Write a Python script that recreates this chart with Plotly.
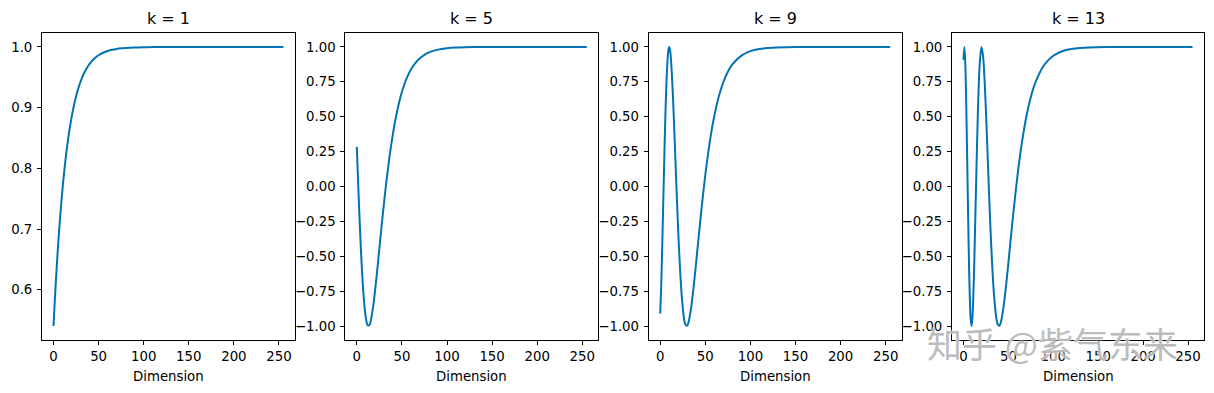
import plotly.graph_objects as go

# Dimension indices at which values were read
dims = [0, 1, 2, 3, 4, 5, 6, 7, 8, 9, 10, 11, 12, 14, 16, 18, 20, 22, 24, 26, 28, 30,
        32, 34, 36, 38, 40, 42, 44, 46, 48, 50, 55, 60, 65, 70, 75, 80, 90, 100, 110,
        120, 130, 140, 160, 180, 200, 220, 240, 255]

k_values = [1, 5, 9, 13]

vals_k1 = [0.5403, 0.5697, 0.5973, 0.6234, 0.6479, 0.6710, 0.6925, 0.7128, 0.7317, 0.7496,
           0.7662, 0.7818, 0.7965, 0.8229, 0.8461, 0.8662, 0.8837, 0.8991, 0.9124, 0.9240,
           0.9341, 0.9428, 0.9504, 0.9570, 0.9627, 0.9677, 0.9720, 0.9758, 0.9790, 0.9818,
           0.9842, 0.9863, 0.9905, 0.9933, 0.9954, 0.9968, 0.9977, 0.9984, 0.9992, 0.9996,
           0.9998, 0.9999, 1.0, 1.0, 1.0, 1.0, 1.0, 1.0, 1.0, 1.0]

vals_k5 = [0.2837, 0.1107, -0.0595, -0.2221, -0.3733, -0.5104, -0.6314, -0.7351, -0.8206, -0.8891,
           -0.9402, -0.9750, -0.9945, -0.9928, -0.9461, -0.8652, -0.7604, -0.6404, -0.5125, -0.3814,
           -0.2523, -0.1279, -0.0103, 0.0993, 0.2002, 0.2923, 0.3757, 0.4506, 0.5176, 0.5772,
           0.6301, 0.6768, 0.7708, 0.8379, 0.8860, 0.9199, 0.9439, 0.9607, 0.9808, 0.9906,
           0.9954, 0.9978, 0.9989, 0.9995, 0.9999, 1.0, 1.0, 1.0, 1.0, 1.0]

vals_k9 = [-0.9111, -0.7366, -0.4979, -0.2233, 0.0603, 0.3295, 0.5658, 0.7564, 0.8935, 0.9743,
           1.0000, 0.9749, 0.9053, 0.6642, 0.3416, -0.0027, -0.3237, -0.5923, -0.7939, -0.9249,
           -0.9895, -0.9965, -0.9566, -0.8808, -0.7795, -0.6615, -0.5341, -0.4034, -0.2738, -0.1485,
           -0.0297, 0.0814, 0.3218, 0.5068, 0.6465, 0.7484, 0.8220, 0.8747, 0.9383, 0.9698,
           0.9852, 0.9928, 0.9965, 0.9983, 0.9996, 0.9999, 1.0, 1.0, 1.0, 1.0]

vals_k13 = [0.9074, 0.9997, 0.8920, 0.6244, 0.2590, -0.1355, -0.4966, -0.7770, -0.9480, -0.9998,
            -0.9384, -0.7816, -0.5546, -0.0019, 0.5172, 0.8679, 0.9989, 0.9241, 0.6959, 0.3793,
            0.0348, -0.2905, -0.5658, -0.7751, -0.9138, -0.9854, -0.9983, -0.9630, -0.8907, -0.7917,
            -0.6750, -0.5484, -0.2230, 0.0695, 0.3120, 0.4997, 0.6410, 0.7445, 0.8726, 0.9373,
            0.9693, 0.9850, 0.9927, 0.9964, 0.9992, 0.9998, 1.0, 1.0, 1.0, 1.0]

series = [vals_k1, vals_k5, vals_k9, vals_k13]

x_ticks = [0, 50, 100, 150, 200, 250]
y_ticks_k1 = [0.6, 0.7, 0.8, 0.9, 1.0]
y_ticks_other = [-1.0, -0.75, -0.5, -0.25, 0.0, 0.25, 0.5, 0.75, 1.0]

W, H = 1214, 393
x_doms_px = [(42, 295), (345.3, 598.3), (648.7, 901.7), (952, 1204)]
y_top_px, y_bot_px = 33, 340
y_dom = [1 - y_bot_px / H, 1 - y_top_px / H]

FONT = "DejaVu Sans"
LINE_COLOR = "#0173B2"

fig = go.Figure()
layout = dict(
    width=W, height=H, autosize=False,
    margin=dict(l=0, r=0, t=0, b=0),
    paper_bgcolor="white", plot_bgcolor="white",
    showlegend=False,
    font=dict(family=FONT, size=13.3, color="black"),
)

annotations = []


def fmt(v, nd):
    s = f"{abs(v):.{nd}f}"
    return ("\u2212" + s) if v < 0 else s


for i, (k, vals) in enumerate(zip(k_values, series)):
    idx = "" if i == 0 else str(i + 1)
    xa, ya = "x" + idx, "y" + idx
    fig.add_trace(go.Scatter(
        x=dims, y=vals, mode="lines", xaxis=xa, yaxis=ya,
        line=dict(color=LINE_COLOR, width=2, shape="spline", smoothing=0.8),
        hoverinfo="skip",
    ))
    x0, x1 = x_doms_px[i]
    dom = [x0 / W, x1 / W]
    common = dict(
        showline=True, linecolor="black", linewidth=1, mirror=True,
        ticks="outside", ticklen=4, tickwidth=1, tickcolor="black",
        showgrid=False, zeroline=False,
        tickfont=dict(family=FONT, size=13.3, color="black"),
    )
    layout["xaxis" + idx] = dict(
        domain=dom, anchor=ya, range=[-12.75, 267.75],
        tickvals=x_ticks, ticktext=[str(t) for t in x_ticks], **common,
    )
    if k == 1:
        lo, hi = min(vals), max(vals)
        pad = (hi - lo) * 0.05
        yt = y_ticks_k1
        ytext = [fmt(t, 1) for t in yt]
        yr = [lo - pad, hi + pad]
    else:
        yt = y_ticks_other
        ytext = [fmt(t, 2) for t in yt]
        yr = [-1.1, 1.1]
    layout["yaxis" + idx] = dict(
        domain=y_dom, anchor=xa, range=yr,
        tickvals=yt, ticktext=ytext, ticklabelstandoff=2, **common,
    )
    xc = (x0 + x1) / 2 / W
    annotations.append(dict(
        text=f"k = {k}", x=xc, y=y_dom[1], xref="paper", yref="paper",
        xanchor="center", yanchor="bottom", yshift=3, showarrow=False,
        font=dict(family=FONT, size=16, color="black"),
    ))
    annotations.append(dict(
        text="Dimension", x=xc, y=1 - 376 / H, xref="paper", yref="paper",
        xanchor="center", yanchor="middle", showarrow=False,
        font=dict(family=FONT, size=13.3, color="black"),
    ))

# watermark
annotations.append(dict(
    text="知乎 @紫气东来", x=1052 / W, y=1 - 342 / H, xref="paper", yref="paper",
    xanchor="center", yanchor="middle", showarrow=False,
    font=dict(family="Noto Sans CJK SC", size=35, color="rgba(170,170,170,0.8)",
              shadow="0 0 2px white, 0 0 2px white"),
))

layout["annotations"] = annotations
fig.update_layout(**layout)
fig.write_html(
    "out.html",
    config={"displayModeBar": False, "staticPlot": True},
    post_script="document.body.style.margin='0';document.body.style.overflow='hidden';",
)
